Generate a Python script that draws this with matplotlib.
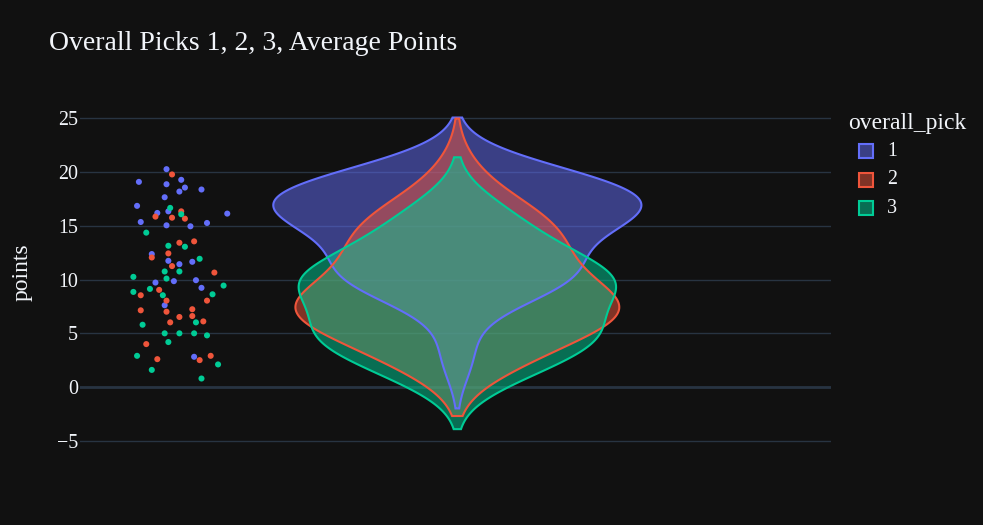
import numpy as np
import matplotlib.pyplot as plt
from matplotlib.patches import Rectangle

# overall pick groups and their points
picks = ['1', '2', '3']
colors = ['#636efa', '#EF553B', '#00cc96']

points_1 = [20.27, 19.09, 19.28, 18.87, 18.56, 18.38, 18.19, 17.66, 16.86, 16.14,
            16.2, 16.35, 15.36, 15.05, 14.96, 15.27, 12.38, 11.75, 11.44, 11.66,
            9.73, 9.86, 9.95, 9.24, 7.62, 2.83]
points_2 = [19.78, 16.35, 15.86, 15.76, 15.67, 13.43, 13.56, 12.44, 12.06, 11.26,
            10.66, 9.05, 8.55, 8.05, 8.05, 7.15, 7.02, 7.25, 6.62, 6.53,
            6.03, 6.12, 4.01, 2.61, 2.92, 2.52]
points_3 = [16.67, 16.08, 14.37, 13.15, 13.06, 11.94, 10.76, 10.76, 10.26, 10.1,
            9.14, 8.86, 9.45, 8.64, 8.55, 6.03, 5.81, 5.01, 5.01, 5.01,
            4.82, 4.2, 2.92, 1.61, 2.12, 0.81]

# horizontal jitter of the shown points (fraction of violin half width)
jitter_1 = [-0.08, -0.23, 0.0, -0.08, 0.02, 0.11, -0.01, -0.09, -0.24, 0.25,
            -0.13, -0.07, -0.22, -0.08, 0.05, 0.14, -0.16, -0.07, -0.01, 0.06,
            -0.14, -0.04, 0.08, 0.11, -0.09, 0.07]
jitter_2 = [-0.05, 0.0, -0.14, -0.05, 0.02, -0.01, 0.07, -0.07, -0.16, -0.05,
            0.18, -0.12, -0.22, -0.08, 0.14, -0.22, -0.08, 0.06, 0.06, -0.01,
            -0.06, 0.12, -0.19, -0.13, 0.16, 0.10]
jitter_3 = [-0.06, 0.0, -0.19, -0.07, 0.02, 0.10, -0.09, -0.01, -0.26, -0.08,
            -0.17, -0.26, 0.23, 0.17, -0.10, 0.08, -0.21, -0.09, -0.01, 0.07,
            0.14, -0.07, -0.24, -0.16, 0.20, 0.11]

groups = [points_1, points_2, points_3]
jitters = [jitter_1, jitter_2, jitter_3]

BG = '#111111'
GRID = '#283442'
TXT = '#f2f5fa'
plt.rcParams['font.family'] = ['Liberation Serif', 'DejaVu Serif']


def kde(vals):
    v = np.asarray(vals, dtype=float)
    n = len(v)
    q1, q3 = np.percentile(v, [25, 75])
    bw = 1.059 * min(v.std(ddof=1), (q3 - q1) / 1.349) * n ** -0.2
    ys = np.linspace(v.min() - 2 * bw, v.max() + 2 * bw, 300)
    dens = np.exp(-0.5 * ((ys[:, None] - v[None, :]) / bw) ** 2).sum(axis=1)
    dens = dens / (n * bw * np.sqrt(2 * np.pi))
    return ys, dens * n


fig = plt.figure(figsize=(9.83, 5.25), dpi=100, facecolor=BG)
ax = fig.add_axes([80 / 983, 80 / 525, 751 / 983, 345 / 525])
ax.set_facecolor(BG)

curves = [kde(g) for g in groups]
wmax = max(c[1].max() for c in curves)

for (ys, w), g, jt, col in zip(curves, groups, jitters, colors):
    half = w / wmax
    xs = np.concatenate([half, -half[::-1]])
    yy = np.concatenate([ys, ys[::-1]])
    ax.fill(xs, yy, facecolor=col, alpha=0.5, edgecolor='none', zorder=2)
    ax.fill(xs, yy, facecolor='none', edgecolor=col, lw=1.5, zorder=3)
    ax.scatter(np.array(jt) - 1.5, g, s=19, color=col, edgecolors='none', zorder=4)

ax.set_xlim(-2.05, 2.03)
ax.set_ylim(-5.37, 26.7)
ax.set_yticks([-5, 0, 5, 10, 15, 20, 25])
ax.set_yticklabels(['\u22125', '0', '5', '10', '15', '20', '25'])
ax.set_xticks([])
ax.grid(axis='y', color=GRID, lw=1, zorder=0)
ax.axhline(0, color=GRID, lw=2, zorder=1)
ax.tick_params(axis='y', length=0, pad=1.5, labelsize=14.4, labelcolor=TXT)
for s in ax.spines.values():
    s.set_visible(False)

fig.text(49 / 983, 1 - 50 / 525, 'Overall Picks 1, 2, 3, Average Points',
         fontsize=20, color=TXT, ha='left', va='baseline')
fig.text(22 / 983, 1 - 272 / 525, 'points', rotation=90, fontsize=17,
         color=TXT, ha='center', va='center')

# legend
fig.text(848 / 983, 1 - 124 / 525, 'overall_pick', fontsize=17, color=TXT,
         ha='left', va='center')
for i, (lab, col) in enumerate(zip(picks, colors)):
    yc = 151 + i * 28.7
    fig.patches.append(Rectangle((859 / 983, 1 - (yc + 7) / 525), 14 / 983, 14 / 525,
                                 transform=fig.transFigure, facecolor=col, alpha=0.5,
                                 edgecolor='none'))
    fig.patches.append(Rectangle((859 / 983, 1 - (yc + 7) / 525), 14 / 983, 14 / 525,
                                 transform=fig.transFigure, facecolor='none',
                                 edgecolor=col, lw=1.5))
    fig.text(887 / 983, 1 - yc / 525, lab, fontsize=14.4, color=TXT,
             ha='left', va='center')

fig.savefig('out.png', dpi=100, facecolor=BG)
